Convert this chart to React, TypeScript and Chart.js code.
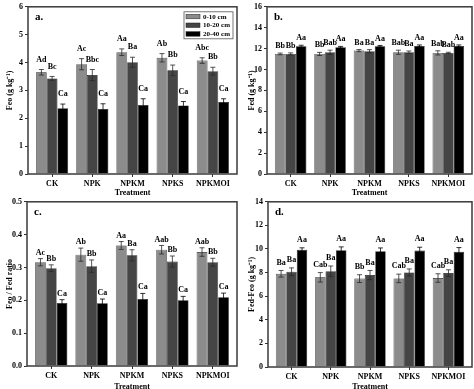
import React, { useEffect, useRef } from 'react';
import { Chart, registerables } from 'chart.js';

Chart.register(...registerables);

// ---------- data ----------
const categories = ['CK', 'NPK', 'NPKM', 'NPKS', 'NPKMOI'];
const depthLabels = ['0-10 cm', '10-20 cm', '20-40 cm'];
const depthColors = ['#8c8c8c', '#454545', '#000000'];

// a. Feo (g kg-1)
const feo0_10 = [3.65, 3.94, 4.37, 4.17, 4.07];
const feo10_20 = [3.43, 3.55, 4.01, 3.72, 3.69];
const feo20_40 = [2.36, 2.33, 2.48, 2.46, 2.58];
const feoErr0_10 = [0.1, 0.2, 0.12, 0.15, 0.1];
const feoErr10_20 = [0.07, 0.2, 0.18, 0.19, 0.14];
const feoErr20_40 = [0.15, 0.19, 0.22, 0.14, 0.12];
const feoLet0_10 = ['Ad', 'Ac', 'Aa', 'Ab', 'Abc'];
const feoLet10_20 = ['Bc', 'Bbc', 'Ba', 'Bb', 'Bb'];
const feoLet20_40 = ['Ca', 'Ca', 'Ca', 'Ca', 'Ca'];

// b. Fed (g kg-1)
const fed0_10 = [11.49, 11.49, 11.81, 11.65, 11.59];
const fed10_20 = [11.49, 11.65, 11.75, 11.65, 11.59];
const fed20_40 = [12.22, 12.13, 12.22, 12.25, 12.25];
const fedErr0_10 = [0.08, 0.15, 0.1, 0.2, 0.2];
const fedErr10_20 = [0.1, 0.2, 0.15, 0.12, 0.06];
const fedErr20_40 = [0.1, 0.08, 0.08, 0.1, 0.1];
const fedLet0_10 = ['Bb', 'Bb', 'Ba', 'Bab', 'Bab'];
const fedLet10_20 = ['Bb', 'Bab', 'Ba', 'Ba', 'Bab'];
const fedLet20_40 = ['Aa', 'Aa', 'Aa', 'Aa', 'Aa'];

// c. Feo / Fed ratio
const ratio0_10 = [0.316, 0.339, 0.367, 0.354, 0.347];
const ratio10_20 = [0.298, 0.304, 0.337, 0.318, 0.316];
const ratio20_40 = [0.192, 0.191, 0.204, 0.2, 0.209];
const ratioErr0_10 = [0.011, 0.02, 0.012, 0.013, 0.013];
const ratioErr10_20 = [0.01, 0.019, 0.017, 0.017, 0.012];
const ratioErr20_40 = [0.01, 0.013, 0.017, 0.012, 0.013];
const ratioLet0_10 = ['Ac', 'Ab', 'Aa', 'Aab', 'Aab'];
const ratioLet10_20 = ['Bb', 'Bb', 'Ba', 'Bb', 'Bb'];
const ratioLet20_40 = ['Ca', 'Ca', 'Ca', 'Ca', 'Ca'];

// d. Fed-Feo (g kg-1)
const diff0_10 = [7.9, 7.6, 7.49, 7.51, 7.54];
const diff10_20 = [8.07, 8.12, 7.79, 8.01, 7.96];
const diff20_40 = [9.93, 9.9, 9.81, 9.87, 9.76];
const diffErr0_10 = [0.28, 0.4, 0.33, 0.36, 0.36];
const diffErr10_20 = [0.33, 0.44, 0.39, 0.3, 0.28];
const diffErr20_40 = [0.17, 0.28, 0.28, 0.28, 0.36];
const diffLet0_10 = ['Ba', 'Cab', 'Bb', 'Cab', 'Cab'];
const diffLet10_20 = ['Ba', 'Ba', 'Ba', 'Ba', 'Ba'];
const diffLet20_40 = ['Aa', 'Aa', 'Aa', 'Aa', 'Aa'];

// ---------- styling ----------
const FAMILY = '"Liberation Serif", "Times New Roman", serif';
const tickFont = { family: FAMILY, size: 8, weight: 'bold' as const };

type PanelDef = {
  tag: string;
  yTitle: string;
  yMax: number;
  yStep: number;
  decimals: number;
  series: number[][];
  errors: number[][];
  letters: string[][];
  letterGap: number;
  legend: boolean;
  left: number;
  top: number;
  width: number;
  height: number;
  padTop: number;
  padRight: number;
  yAxisWidth: number;
  xAxisHeight: number;
  yTitlePad: number;
};

function makePlugin(p: PanelDef) {
  return {
    id: 'panelExtras' + p.tag.replace('.', ''),
    afterDatasetsDraw(chart: any) {
      const ctx = chart.ctx;
      const ys = chart.scales.y;
      ctx.save();
      p.series.forEach((vals, di) => {
        const meta = chart.getDatasetMeta(di);
        meta.data.forEach((el: any, j: number) => {
          const v = vals[j];
          const e = p.errors[di][j];
          const yt = ys.getPixelForValue(v + e);
          const yb = ys.getPixelForValue(v - e);
          ctx.strokeStyle = di === 2 ? '#000' : '#2a2a2a';
          ctx.lineWidth = 0.8;
          ctx.beginPath();
          ctx.moveTo(el.x, yt);
          ctx.lineTo(el.x, yb);
          ctx.moveTo(el.x - 2.5, yt);
          ctx.lineTo(el.x + 2.5, yt);
          ctx.moveTo(el.x - 2.5, yb);
          ctx.lineTo(el.x + 2.5, yb);
          ctx.stroke();
          ctx.fillStyle = '#000';
          ctx.font = `bold 8px ${FAMILY}`;
          ctx.textAlign = 'center';
          ctx.textBaseline = 'bottom';
          ctx.fillText(p.letters[di][j], el.x, yt - p.letterGap);
        });
      });
      ctx.restore();
    },
    afterDraw(chart: any) {
      const ctx = chart.ctx;
      const a = chart.chartArea;
      ctx.save();
      ctx.strokeStyle = '#3a3a3a';
      ctx.lineWidth = 1.5;
      ctx.strokeRect(a.left, a.top, a.right - a.left, a.bottom - a.top);
      ctx.fillStyle = '#000';
      ctx.font = `bold 11px ${FAMILY}`;
      ctx.textAlign = 'left';
      ctx.textBaseline = 'middle';
      ctx.fillText(p.tag, a.left + 7, a.top + 10);
      if (p.legend) {
        const bx = a.right - 53;
        const by = a.top + 5;
        ctx.lineWidth = 0.8;
        ctx.strokeStyle = '#555';
        ctx.strokeRect(bx, by, 49, 27);
        depthLabels.forEach((lab, i) => {
          const cy = by + 4.5 + i * 8.7;
          ctx.fillStyle = depthColors[i];
          ctx.fillRect(bx + 2, cy - 2, 14, 4.5);
          ctx.strokeStyle = '#222';
          ctx.lineWidth = 0.5;
          ctx.strokeRect(bx + 2, cy - 2, 14, 4.5);
          ctx.fillStyle = '#000';
          ctx.font = `bold 7px ${FAMILY}`;
          ctx.textBaseline = 'middle';
          ctx.fillText(lab, bx + 19, cy + 0.5);
        });
      }
      ctx.restore();
    },
  };
}

function buildConfig(p: PanelDef): any {
  return {
    type: 'bar',
    data: {
      datasets: p.series.map((vals, i) => ({
        label: depthLabels[i],
        data: vals.map((v, j) => ({ x: j + 1, y: v })),
        backgroundColor: depthColors[i],
        borderColor: '#1a1a1a',
        borderWidth: 0.6,
        categoryPercentage: 0.8,
        barPercentage: 1.0,
      })),
    },
    options: {
      animation: false,
      responsive: false,
      devicePixelRatio: 1,
      layout: { padding: { top: p.padTop, right: p.padRight, left: 0, bottom: 0 } },
      plugins: { legend: { display: false }, tooltip: { enabled: false } },
      scales: {
        x: {
          type: 'linear',
          offset: false,
          min: 0.4,
          max: 5.6,
          afterBuildTicks: (s: any) => {
            s.ticks = categories.map((_, i) => ({ value: i + 1 }));
          },
          afterFit: (s: any) => {
            s.height = p.xAxisHeight;
          },
          ticks: {
            callback: (v: number) => categories[Math.round(v) - 1] ?? '',
            font: tickFont,
            color: '#000',
            padding: 2,
            autoSkip: false,
            maxRotation: 0,
          },
          grid: { display: true, offset: false, drawOnChartArea: false, drawTicks: true, tickLength: 3, color: '#333' },
          border: { display: false },
          title: {
            display: true,
            text: 'Treatment',
            font: tickFont,
            color: '#000',
            padding: { top: 0, bottom: -3 },
          },
        },
        y: {
          min: 0,
          max: p.yMax,
          afterFit: (s: any) => {
            s.width = p.yAxisWidth;
          },
          ticks: {
            stepSize: p.yStep,
            font: tickFont,
            color: '#000',
            padding: 2,
            callback: (v: number) => Number(v).toFixed(p.decimals),
          },
          grid: { display: true, drawOnChartArea: false, drawTicks: true, tickLength: 3, color: '#333' },
          border: { display: false },
          title: {
            display: true,
            text: p.yTitle,
            font: tickFont,
            color: '#000',
            padding: { top: p.yTitlePad, bottom: 0 },
          },
        },
      },
    },
    plugins: [makePlugin(p)],
  };
}

const panels: PanelDef[] = [
  {
    tag: 'a.', yTitle: 'Feo (g kg⁻¹)', yMax: 6, yStep: 1, decimals: 0,
    series: [feo0_10, feo10_20, feo20_40],
    errors: [feoErr0_10, feoErr10_20, feoErr20_40],
    letters: [feoLet0_10, feoLet10_20, feoLet20_40],
    letterGap: 6, legend: true,
    left: 0, top: 0, width: 240, height: 195,
    padTop: 6, padRight: 3, yAxisWidth: 28, xAxisHeight: 21, yTitlePad: 5,
  },
  {
    tag: 'b.', yTitle: 'Fed (g kg⁻¹)', yMax: 16, yStep: 2, decimals: 0,
    series: [fed0_10, fed10_20, fed20_40],
    errors: [fedErr0_10, fedErr10_20, fedErr20_40],
    letters: [fedLet0_10, fedLet10_20, fedLet20_40],
    letterGap: 3, legend: false,
    left: 240, top: 0, width: 234, height: 195,
    padTop: 6, padRight: 2, yAxisWidth: 27, xAxisHeight: 21, yTitlePad: 7,
  },
  {
    tag: 'c.', yTitle: 'Feo / Fed ratio', yMax: 0.5, yStep: 0.1, decimals: 1,
    series: [ratio0_10, ratio10_20, ratio20_40],
    errors: [ratioErr0_10, ratioErr10_20, ratioErr20_40],
    letters: [ratioLet0_10, ratioLet10_20, ratioLet20_40],
    letterGap: 2, legend: false,
    left: 0, top: 195, width: 240, height: 194,
    padTop: 4, padRight: 3, yAxisWidth: 27, xAxisHeight: 23, yTitlePad: 5,
  },
  {
    tag: 'd.', yTitle: 'Fed-Feo (g kg⁻¹)', yMax: 14, yStep: 2, decimals: 0,
    series: [diff0_10, diff10_20, diff20_40],
    errors: [diffErr0_10, diffErr10_20, diffErr20_40],
    letters: [diffLet0_10, diffLet10_20, diffLet20_40],
    letterGap: 4, legend: false,
    left: 240, top: 195, width: 234, height: 194,
    padTop: 4, padRight: 2, yAxisWidth: 28, xAxisHeight: 22, yTitlePad: 7,
  },
];

function Panel({ def }: { def: PanelDef }) {
  const ref = useRef<HTMLCanvasElement>(null);
  useEffect(() => {
    if (!ref.current) return;
    const chart = new Chart(ref.current, buildConfig(def));
    return () => chart.destroy();
  }, [def]);
  return (
    <canvas
      ref={ref}
      width={def.width}
      height={def.height}
      style={{ position: 'absolute', left: def.left, top: def.top, width: def.width, height: def.height, display: 'block' }}
    />
  );
}

export default function App() {
  return (
    <div style={{ position: 'absolute', left: 0, top: 0, width: 474, height: 389, background: '#fff', overflow: 'hidden' }}>
      {panels.map((p) => (
        <Panel key={p.tag} def={p} />
      ))}
    </div>
  );
}
